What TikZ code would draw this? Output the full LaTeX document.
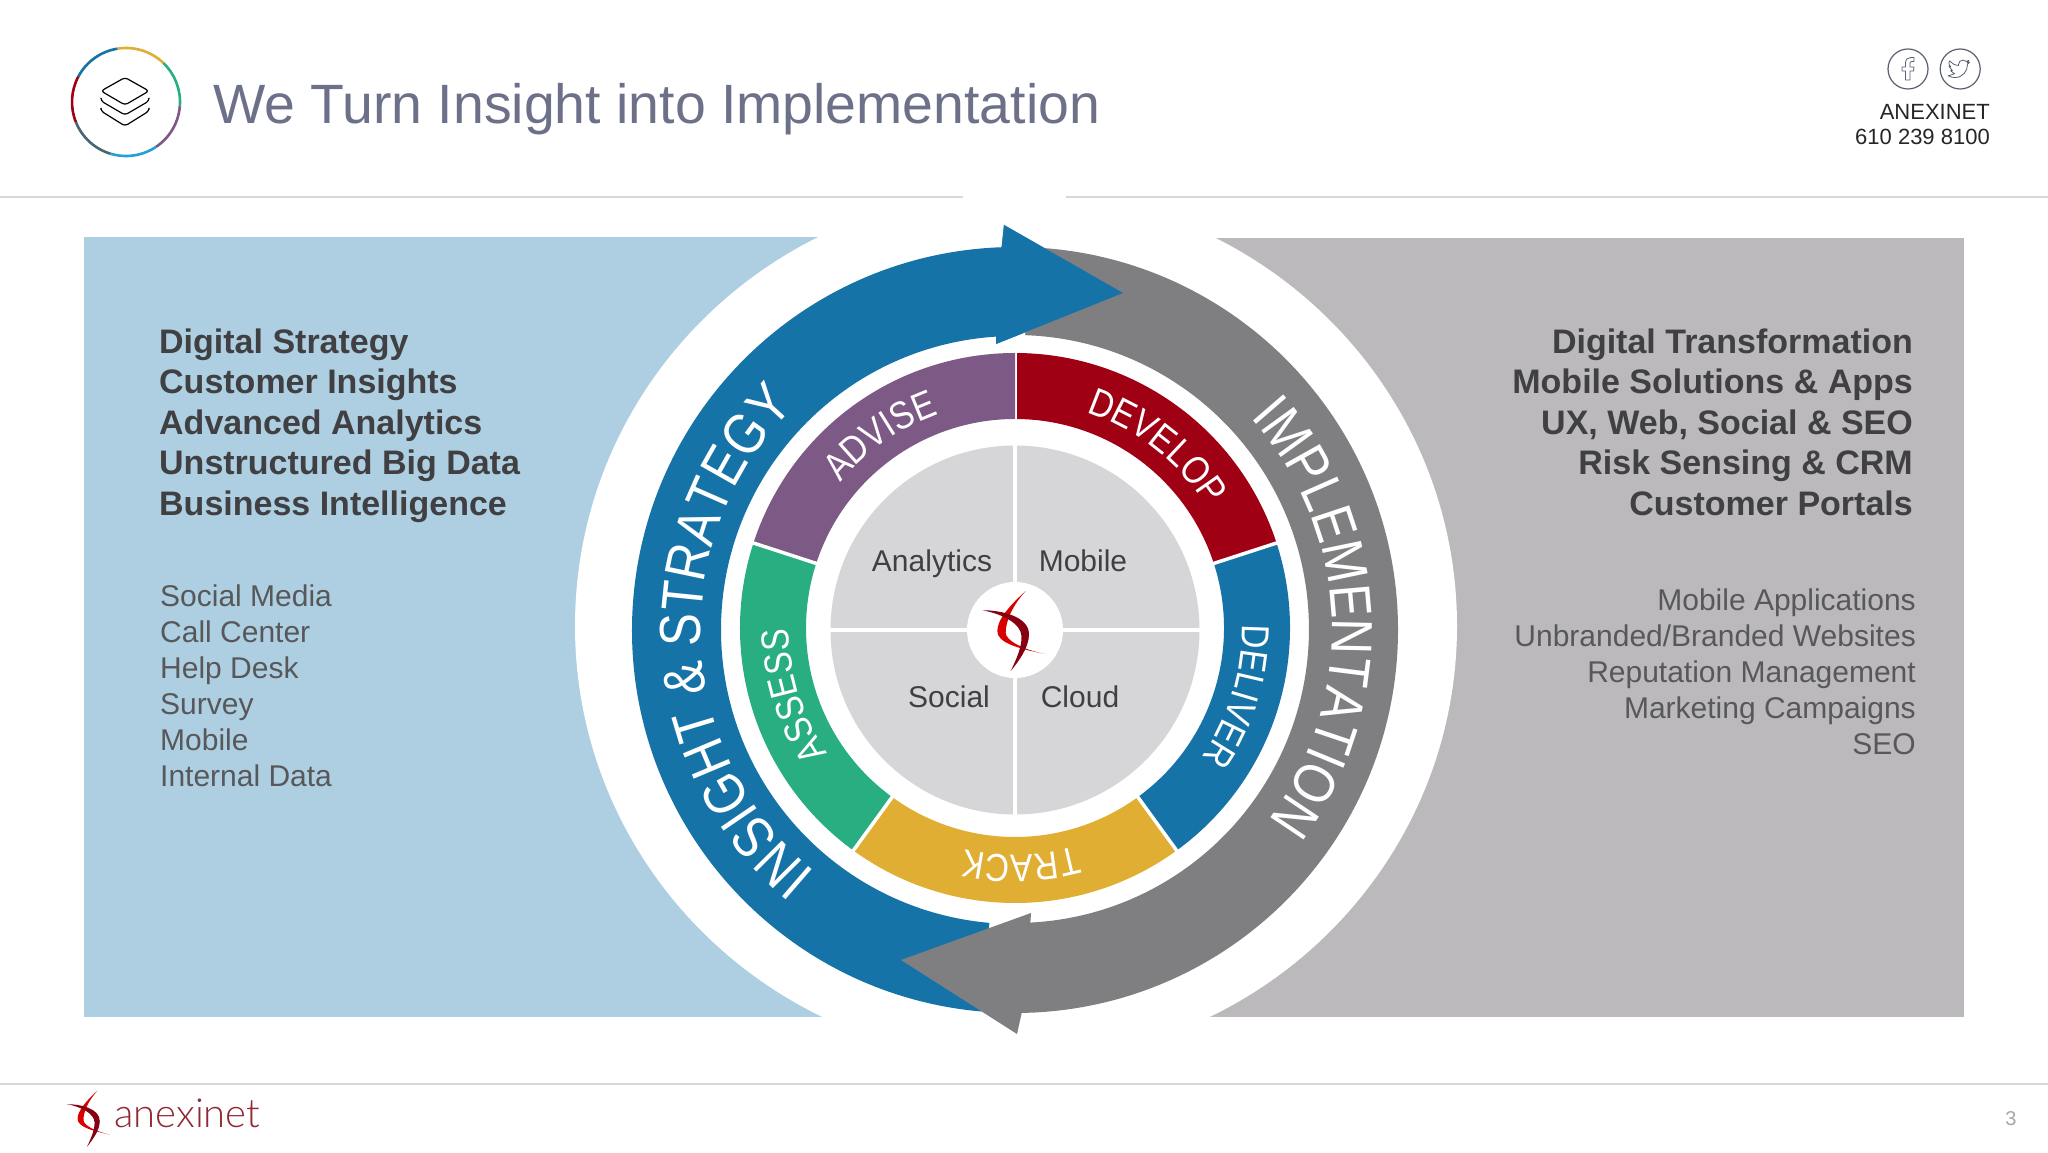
\documentclass[tikz,border=0pt]{standalone}
\usepackage{fontspec}
\setmainfont{Liberation Sans}
\newfontfamily\arcfont[FakeStretch=.85]{Liberation Sans}
\newfontfamily\logofont{Lato Light}
\usetikzlibrary{decorations.text, positioning}
\definecolor{panelblue}{HTML}{AECFE2}
\definecolor{panelgray}{HTML}{BBB9BC}
\definecolor{arrowblue}{HTML}{1673A8}
\definecolor{arrowgray}{HTML}{7F7E80}
\definecolor{ringpurple}{HTML}{7D5A85}
\definecolor{ringred}{HTML}{9F0014}
\definecolor{ringgreen}{HTML}{28AE80}
\definecolor{ringgold}{HTML}{E0AE32}
\definecolor{discgray}{HTML}{D6D5D8}
\definecolor{titlegray}{HTML}{6C7189}
\definecolor{rulegray}{HTML}{D8D8DC}
\definecolor{textdark}{HTML}{404042}
\definecolor{textsoft}{HTML}{58585A}
\definecolor{iconline}{HTML}{5B6070}
\definecolor{logored}{HTML}{8E2A33}
\newcommand{\arclabel}[4]{\path[decorate,decoration={text along path,text align=center,text={|#3|#4}}]
  (#2+70:#1) arc[start angle=#2+70,end angle=#2-70,radius=#1];}
\newcommand{\bigarc}{\arcfont\fontsize{58}{60}\selectfont\color{white}}
\newcommand{\ringarc}{\arcfont\fontsize{39}{42}\selectfont\color{white}}
\tikzset{
  boldlist/.style={inner sep=0pt, font=\fontsize{34}{40.5}\selectfont\bfseries, text=textdark},
  softlist/.style={inner sep=0pt, font=\fontsize{30}{36}\selectfont, text=textsoft},
  disclabel/.style={inner sep=0pt, anchor=base, font=\fontsize{30}{36}\selectfont, text=textdark},
  iconcircle/.style={draw=iconline, line width=1.2pt},
  swoosh/.pic={
    \fill[red!85!black] (10.7,39) .. controls (-6,24) and (-17.7,10) .. (-17.7,-1)
      .. controls (-17.7,-12) and (0,-18) .. (29,-23.7)
      .. controls (6,-19) and (-9,-10) .. (-9.3,-3)
      .. controls (-9.5,8) and (-3,24) .. (10.7,39) -- cycle;
    \fill[ringred!85!black] (-32.7,19.7) .. controls (-15,20) and (14,14) .. (14,-4.3)
      .. controls (14,-18) and (3,-32) .. (-4.3,-41)
      .. controls (1,-30) and (7,-17) .. (6.5,-6)
      .. controls (6,6) and (-12,16) .. (-32.7,19.7) -- cycle;
  }
}
\begin{document}
\begin{tikzpicture}[x=1pt,y=1pt,line join=bevel]
  \useasboundingbox (0,0) rectangle (2048,1152);
  \fill[white] (0,0) rectangle (2048,1152);
  \fill[panelblue] (84,135) rectangle (1015,915);
  \fill[panelgray] (1015,135) rectangle (1964,914);
  \fill[white] (1016,526) ellipse[x radius=441,y radius=435];
  \draw[rulegray,line width=2pt] (0,955) -- (963,955);
  \draw[rulegray,line width=2pt] (1066,955) -- (2048,955);
  \draw[rulegray,line width=2pt] (0,68) -- (2048,68);
  \begin{scope}[shift={(1015,522)}]
    \fill[arrowblue] (265:383) arc[start angle=265,end angle=92,radius=383] -- (92:383) -- (-11,405)
      -- (108,337) -- (-19,286) -- (93.5:294) arc[start angle=93.5,end angle=265,radius=294] -- cycle;
    \fill[arrowgray] (88:383) arc[start angle=88,end angle=-89,radius=383] -- (2,-404)
      -- (-114,-330) -- (16,-283) -- (-87:293) arc[start angle=-87,end angle=88,radius=294] -- cycle;
    \fill[arrowblue] (-11,405) -- (108,337) -- (-19,286) -- (-18,340) -- cycle;
    \arclabel{314}{182.5}{\bigarc}{INSIGHT {\&} STRATEGY}
    \arclabel{317}{2.5}{\bigarc}{IMPLEMENTATION}
    \begin{scope}[yshift=2]
      \foreach \a/\b/\col in {90/18/ringred, 18/-54/arrowblue, -54/-126/ringgold, -126/-198/ringgreen, -198/-270/ringpurple} {
        \fill[\col] (\a:275) arc[start angle=\a,end angle=\b,radius=275] -- (\b:209)
          arc[start angle=\b,end angle=\a,radius=209] -- cycle;
        \draw[white,line width=3.5pt] (\a:205) -- (\a:280);
      }
      \arclabel{227}{125}{\ringarc}{ADVISE}
      \arclabel{227}{52}{\ringarc}{DEVELOP}
      \arclabel{227}{-17}{\ringarc}{DELIVER}
      \arclabel{227}{-88.5}{\ringarc}{TRACK}
      \arclabel{226}{197}{\ringarc}{ASSESS}
    \end{scope}
    \fill[discgray] (0,0) circle[radius=184.5];
    \draw[white,line width=4pt] (0,190) -- (0,-190);
    \draw[white,line width=4pt] (-190,0) -- (190,0);
    \fill[white] (0,0) circle[radius=48];
    \pic at (0,0) {swoosh};
    \node[disclabel] (analytics) at (-83,58) {Analytics};
    \node[disclabel] (mobile) at (68,58) {Mobile};
    \node[disclabel] (social) at (-66,-78) {Social};
    \node[disclabel] (cloud) at (65,-78) {Cloud};
  \end{scope}
  \node[boldlist, align=left, anchor=north west] (strategy) at (159,823.5)
    {Digital Strategy\\Customer Insights\\Advanced Analytics\\Unstructured Big Data\\Business Intelligence};
  \node[softlist, align=left, anchor=north west] (sources) at (160,567.5)
    {Social Media\\Call Center\\Help Desk\\Survey\\Mobile\\Internal Data};
  \node[boldlist, align=right, anchor=north east] (transform) at (1913,823.5)
    {Digital Transformation\\Mobile Solutions \& Apps\\UX, Web, Social \& SEO\\Risk Sensing \& CRM\\Customer Portals};
  \node[softlist, align=right, anchor=north east] (services) at (1916,563.5)
    {Mobile Applications\\Unbranded/Branded Websites\\Reputation Management\\Marketing Campaigns\\SEO};
  \node[inner sep=0pt, anchor=base west, font=\fontsize{55.4}{60}\selectfont, text=titlegray] (title) at (213,1028)
    {We Turn Insight into Implementation};
  \foreach \a/\b/\col in {152/99/arrowblue, 99/46/ringgold, 46/-4.5/ringgreen, -4.5/-56/ringpurple, -56/-107/cyan!70!teal, -107/-158/iconline!80!teal, -158/-208/ringred}
    \draw[\col,line width=2.6pt] (126,1050) ++(\a:54) arc[start angle=\a,end angle=\b,radius=54];
  \begin{scope}[shift={(125,1050)},rounded corners=3pt,line width=1.2pt]
    \draw (0,24.5) -- (24,11) -- (0,-3) -- (-24,11) -- cycle;
    \draw (-24,3) -- (-24,1) -- (0,-13) -- (24,1) -- (24,3);
    \draw (-24,-8) -- (-24,-9) -- (0,-24) -- (24,-9) -- (24,-8);
  \end{scope}
  \node[iconcircle, circle, minimum size=40pt, inner sep=0pt] (facebook) at (1908,1083) {};
  \node[iconcircle, circle, minimum size=40pt, inner sep=0pt, right=11pt of facebook] (twitter) {};
  \draw[iconline,line width=.8pt,shift={(facebook.center)}] (-2.5,-11) -- (-2.5,-2) -- (-6,-2) -- (-6,2) -- (-2.5,2) -- (-2.5,6)
    .. controls (-2.5,10) and (0,11.5) .. (3,11.5) -- (6,11.5) -- (6,7.5) -- (4,7.5)
    .. controls (2.5,7.5) and (2,7) .. (2,5.5) -- (2,2) -- (6,2) -- (5.5,-2) -- (2,-2) -- (2,-11) -- cycle;
  \begin{scope}[shift={(1948,1094)},x=.9pt,y=-.9pt]
    \draw[iconline,line width=.8pt] (23.95,4.57) -- (21.13,5.35) -- (23.29,2.62) -- (20.16,3.8)
      .. controls (19.3,2.9) and (18,2.3) .. (16.6,2.3) .. controls (13.9,2.3) and (11.7,4.5) .. (11.7,7.2)
      .. controls (11.7,7.6) and (11.75,7.95) .. (11.78,8.29) .. controls (7.69,8.1) and (4.07,6.13) .. (1.64,3.16)
      -- (.97,5.64) .. controls (.97,7.35) and (1.84,8.85) .. (3.16,9.73) -- (.93,9.12) -- (4.88,14)
      -- (2.67,14.09) -- (7.27,17.51) -- (1.17,19.61) -- (0,19.54)
      .. controls (2.2,20.9) and (4.8,21.75) .. (7.56,21.75) .. controls (16.6,21.75) and (21.56,14.26) .. (21.56,7.77)
      -- (21.54,7.14) -- cycle;
  \end{scope}
  \node[inner sep=0pt, align=right, anchor=north east, font=\fontsize{22}{25.5}\selectfont, text=black!85] (contact) at (1990,1048)
    {ANEXINET\\610 239 8100};
  \pic[scale=.7] at (90,34) {swoosh};
  \node[inner sep=0pt, anchor=base west, font=\logofont\fontsize{40}{44}\selectfont, text=logored] (brand) at (114,25) {anexinet};
  \node[inner sep=0pt, font=\fontsize{20}{22}\selectfont, text=black!35] (pagenum) at (2011,33) {3};
\end{tikzpicture}
\end{document}
